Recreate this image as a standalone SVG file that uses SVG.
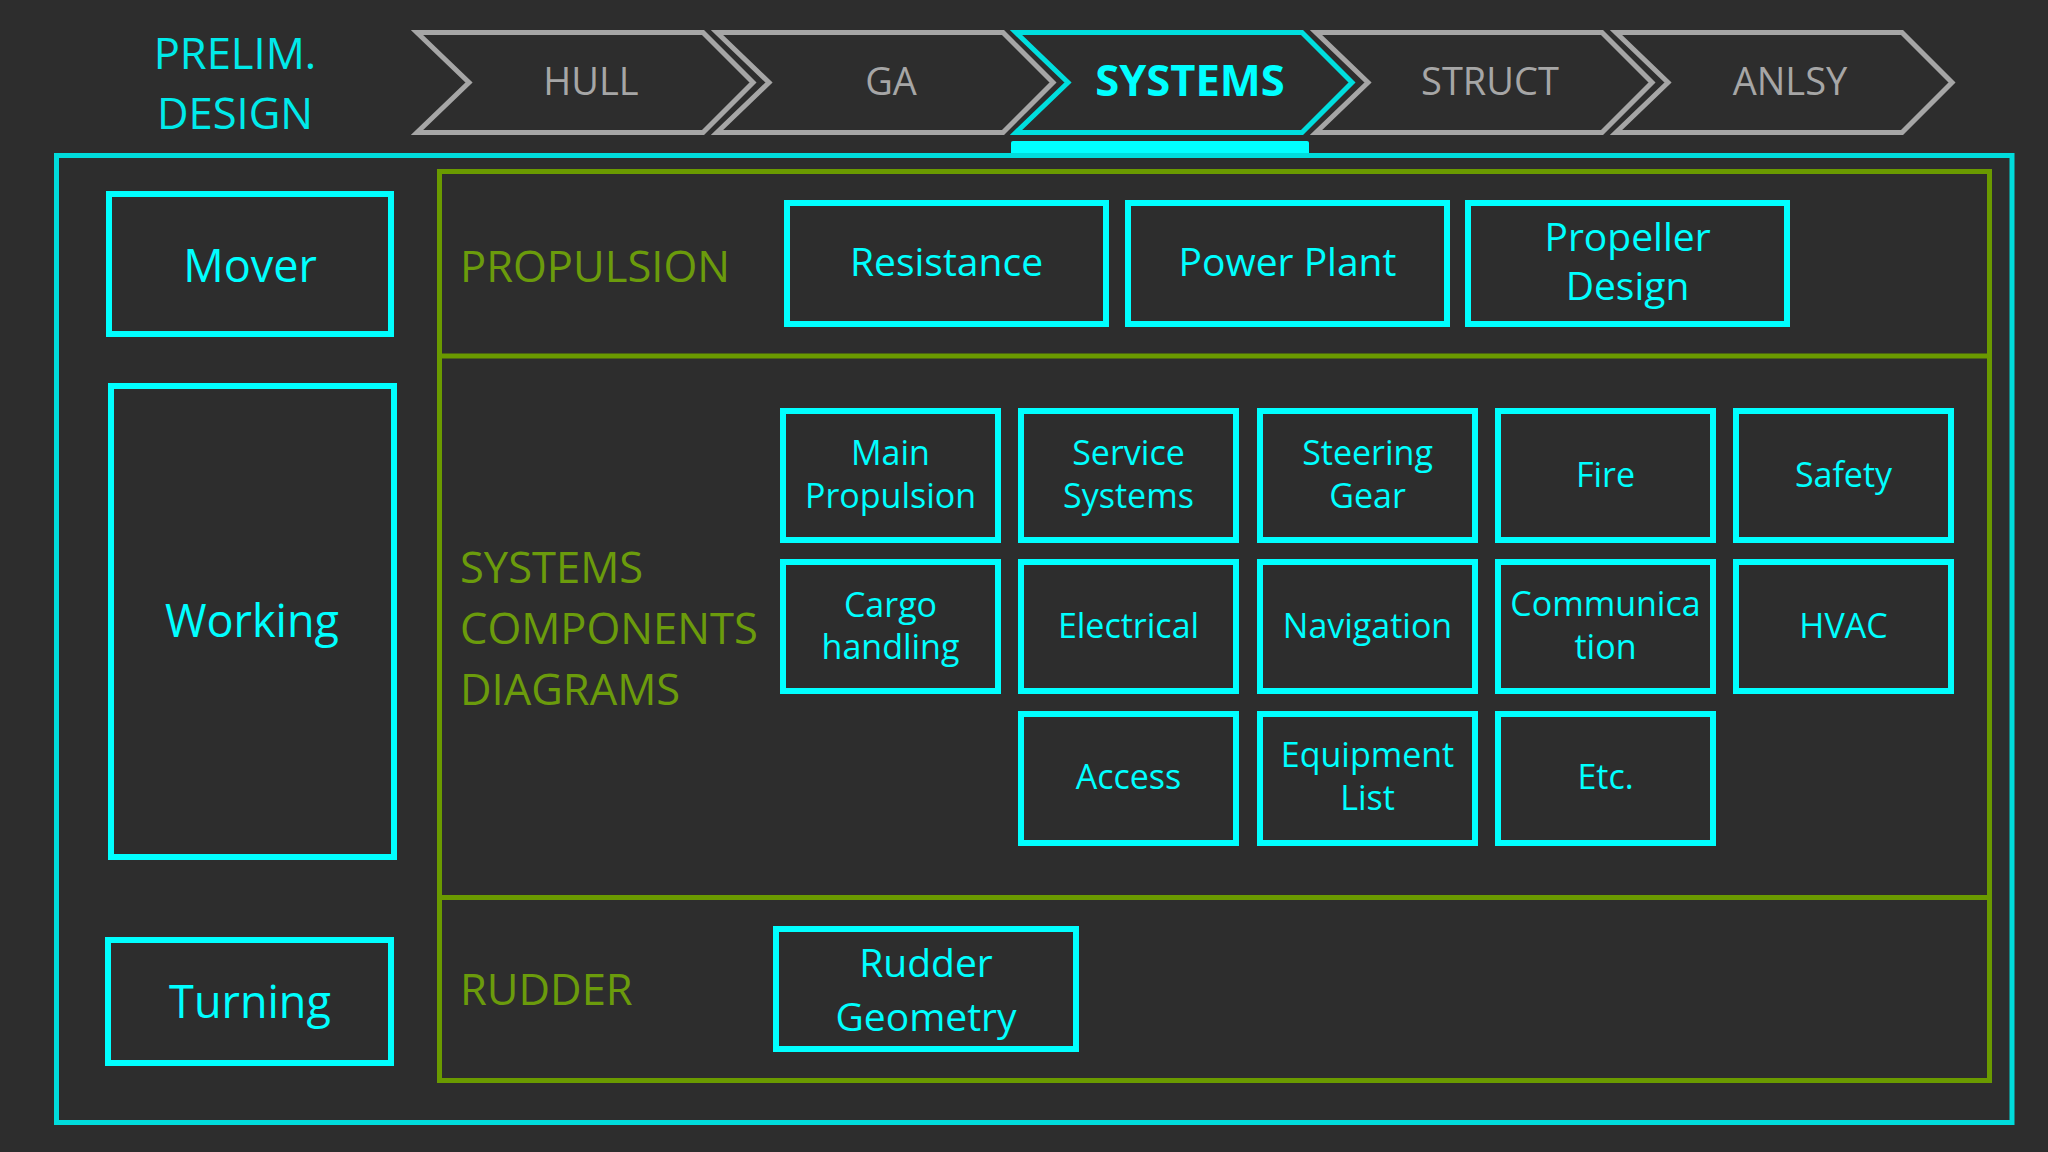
<svg xmlns="http://www.w3.org/2000/svg" width="2048" height="1152" viewBox="0 0 2048 1152">
<defs>
<style>
.bg{fill:#2d2d2d}
.chev{fill:none;stroke:#a6a6a6;stroke-width:5;stroke-linejoin:miter}
.chev-on{fill:none;stroke:#00dede;stroke-width:5;stroke-linejoin:miter}
.ctext{font-family:"Open Sans","Noto Sans","DejaVu Sans",sans-serif;font-size:38px;fill:#a6a6a6;text-anchor:middle}
.ctext-on{font-family:"Open Sans","Noto Sans","DejaVu Sans",sans-serif;font-size:43.5px;font-weight:bold;fill:#00ffff;text-anchor:middle}
.outer{fill:none;stroke:#00dcdc;stroke-width:5}
.green{fill:none;stroke:#6a9a00;stroke-width:5}
.box{fill:none;stroke:#00ffff;stroke-width:6}
.t{font-family:"Open Sans","Noto Sans","DejaVu Sans",sans-serif;fill:#00ffff;text-anchor:middle}
.g{font-family:"Open Sans","Noto Sans","DejaVu Sans",sans-serif;fill:#6b9b0c;font-size:43.5px}
.t34{font-size:34px}
.t39{font-size:39px}
.t44{font-size:45px}
.title{font-family:"Open Sans","Noto Sans","DejaVu Sans",sans-serif;fill:#00eaea;font-size:43.5px;text-anchor:middle}
</style>
</defs>
<rect class="bg" x="0" y="0" width="2048" height="1152"/>

<g id="title">
<text class="title" x="235" y="69">PRELIM.</text>
<text class="title" x="235" y="129">DESIGN</text>
</g>

<g id="tabs">
<g id="tab-hull">
<path class="chev" d="M417,32.5 H703 L753,82.5 L703,132.5 H417 L469,82.5 Z"/>
<text class="ctext" x="591" y="95">HULL</text>
</g>
<g id="tab-ga">
<path class="chev" d="M717,32.5 H1003 L1053,82.5 L1003,132.5 H717 L769,82.5 Z"/>
<text class="ctext" x="891" y="95">GA</text>
</g>
<g id="tab-systems">
<path class="chev-on" d="M1016,32.5 H1302 L1352,82.5 L1302,132.5 H1016 L1068,82.5 Z"/>
<text class="ctext-on" x="1190" y="96">SYSTEMS</text>
<rect x="1011" y="141" width="298" height="15" rx="2" fill="#00ffff"/>
</g>
<g id="tab-struct">
<path class="chev" d="M1316,32.5 H1602 L1652,82.5 L1602,132.5 H1316 L1368,82.5 Z"/>
<text class="ctext" x="1490" y="95">STRUCT</text>
</g>
<g id="tab-anlsy">
<path class="chev" d="M1616,32.5 H1902 L1952,82.5 L1902,132.5 H1616 L1668,82.5 Z"/>
<text class="ctext" x="1790" y="95">ANLSY</text>
</g>
</g>

<g id="frame">
<rect class="outer" x="56.5" y="155.5" width="1955.5" height="967"/>
<rect class="green" x="439.5" y="171.5" width="1550" height="909"/>
<line class="green" x1="439.5" y1="356" x2="1989.5" y2="356"/>
<line class="green" x1="439.5" y1="897.5" x2="1989.5" y2="897.5"/>
</g>

<g id="connectors"></g>

<g id="section-labels">
<text class="g" x="460" y="282">PROPULSION</text>
<text class="g" x="460" y="583">SYSTEMS</text>
<text class="g" x="460" y="644">COMPONENTS</text>
<text class="g" x="460" y="705">DIAGRAMS</text>
<text class="g" x="460" y="1005">RUDDER</text>
</g>

<g id="mover">
<rect class="box" x="109" y="194" width="282" height="140"/>
<text class="t t44" x="250" y="282">Mover</text>
</g>
<g id="working">
<rect class="box" x="111" y="386" width="283" height="471"/>
<text class="t t44" x="252" y="637">Working</text>
</g>
<g id="turning">
<rect class="box" x="108" y="940" width="283" height="123"/>
<text class="t t44" x="250" y="1018">Turning</text>
</g>

<g id="resistance">
<rect class="box" x="787" y="203" width="319" height="121"/>
<text class="t t39" x="946.5" y="276">Resistance</text>
</g>
<g id="power-plant">
<rect class="box" x="1128" y="203" width="319" height="121"/>
<text class="t t39" x="1287.5" y="276">Power Plant</text>
</g>
<g id="propeller-design">
<rect class="box" x="1468" y="203" width="319" height="121"/>
<text class="t t39" x="1627.5" y="251">Propeller</text>
<text class="t t39" x="1627.5" y="300">Design</text>
</g>

<g id="main-propulsion">
<rect class="box" x="783" y="411" width="215" height="129"/>
<text class="t t34" x="890.5" y="465">Main</text>
<text class="t t34" x="890.5" y="508">Propulsion</text>
</g>
<g id="service-systems">
<rect class="box" x="1021" y="411" width="215" height="129"/>
<text class="t t34" x="1128.5" y="465">Service</text>
<text class="t t34" x="1128.5" y="508">Systems</text>
</g>
<g id="steering-gear">
<rect class="box" x="1260" y="411" width="215" height="129"/>
<text class="t t34" x="1367.5" y="465">Steering</text>
<text class="t t34" x="1367.5" y="508">Gear</text>
</g>
<g id="fire">
<rect class="box" x="1498" y="411" width="215" height="129"/>
<text class="t t34" x="1605.5" y="487">Fire</text>
</g>
<g id="safety">
<rect class="box" x="1736" y="411" width="215" height="129"/>
<text class="t t34" x="1843.5" y="487">Safety</text>
</g>

<g id="cargo-handling">
<rect class="box" x="783" y="562" width="215" height="129"/>
<text class="t t34" x="890.5" y="617">Cargo</text>
<text class="t t34" x="890.5" y="659">handling</text>
</g>
<g id="electrical">
<rect class="box" x="1021" y="562" width="215" height="129"/>
<text class="t t34" x="1128.5" y="638">Electrical</text>
</g>
<g id="navigation">
<rect class="box" x="1260" y="562" width="215" height="129"/>
<text class="t t34" x="1367.5" y="638">Navigation</text>
</g>
<g id="communication">
<rect class="box" x="1498" y="562" width="215" height="129"/>
<text class="t t34" x="1605.5" y="616">Communica</text>
<text class="t t34" x="1605.5" y="659">tion</text>
</g>
<g id="hvac">
<rect class="box" x="1736" y="562" width="215" height="129"/>
<text class="t t34" x="1843.5" y="638">HVAC</text>
</g>

<g id="access">
<rect class="box" x="1021" y="714" width="215" height="129"/>
<text class="t t34" x="1128.5" y="789">Access</text>
</g>
<g id="equipment-list">
<rect class="box" x="1260" y="714" width="215" height="129"/>
<text class="t t34" x="1367.5" y="767">Equipment</text>
<text class="t t34" x="1367.5" y="810">List</text>
</g>
<g id="etc">
<rect class="box" x="1498" y="714" width="215" height="129"/>
<text class="t t34" x="1605.5" y="789">Etc.</text>
</g>

<g id="rudder-geometry">
<rect class="box" x="776" y="929" width="300" height="120"/>
<text class="t t39" x="926" y="977">Rudder</text>
<text class="t t39" x="926" y="1031">Geometry</text>
</g>
</svg>
